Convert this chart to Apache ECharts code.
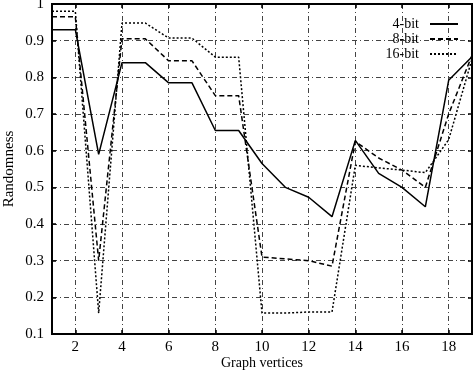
<!DOCTYPE html>
<html>
<head>
<meta charset="utf-8">
<script src="https://cdn.jsdelivr.net/npm/echarts@6/dist/echarts.min.js"></script>
<style>
html,body{margin:0;padding:0;background:#fff;}
#chart{width:474px;height:373px;}
</style>
</head>
<body>
<div id="chart"></div>
<script>
var vertices = [1,2,3,4,5,6,7,8,9,10,11,12,13,14,15,16,17,18,19];
var bit4  = [0.93,0.93,0.59,0.84,0.84,0.785,0.785,0.655,0.655,0.565,0.50,0.473,0.42,0.628,0.538,0.50,0.447,0.792,0.856];
var bit8  = [0.965,0.965,0.30,0.905,0.905,0.845,0.845,0.75,0.75,0.31,0.305,0.30,0.285,0.625,0.58,0.547,0.50,0.70,0.86];
var bit16 = [0.98,0.98,0.157,0.948,0.948,0.907,0.907,0.855,0.855,0.157,0.157,0.16,0.16,0.56,0.553,0.547,0.54,0.63,0.85];
var seriesNames = ['4-bit','8-bit','16-bit'];
var xTicks = [2,4,6,8,10,12,14,16,18];
var yTicks = ['0.1','0.2','0.3','0.4','0.5','0.6','0.7','0.8','0.9','1'];

function pairs(vals){ return vertices.map(function(v,i){ return [v, vals[i]]; }); }

var serif = 'Liberation Serif';
var gridLine = {show:true, lineStyle:{color:'#444', width:1, type:[5,3,1,3]}};

var chart = echarts.init(document.getElementById('chart'), null, {renderer:'canvas'});
chart.setOption({
  animation:false,
  backgroundColor:'#fff',
  grid:{left:52, right:2, top:4, bottom:39, show:true, borderColor:'#000', borderWidth:2,
        containLabel:false, outerBoundsMode:'none'},
  legend:{
    orient:'vertical', right:15, top:17, padding:0, align:'right',
    itemWidth:28, itemHeight:10, itemGap:1,
    data:seriesNames,
    itemStyle:{opacity:0},
    textStyle:{fontFamily:serif, fontSize:14, color:'#000', lineHeight:14, padding:[0,6,0,0]}
  },
  xAxis:[{
    type:'value', min:1, max:19, interval:1,
    name:'Graph vertices', nameLocation:'middle', nameGap:22, nameMoveOverlap:false,
    nameTextStyle:{fontFamily:serif, fontSize:14, color:'#000'},
    axisLine:{show:true, onZero:false, lineStyle:{color:'#000', width:2}},
    axisTick:{show:true, inside:true, length:4, customValues:xTicks, lineStyle:{color:'#000', width:1.5}},
    axisLabel:{show:true, margin:6, customValues:xTicks, fontFamily:serif, fontSize:15, color:'#000'},
    splitLine:gridLine
  },{
    type:'value', min:1, max:19, interval:1, position:'top',
    axisLine:{show:true, onZero:false, lineStyle:{color:'#000', width:2}},
    axisTick:{show:true, inside:true, length:4, customValues:xTicks, lineStyle:{color:'#000', width:1.5}},
    axisLabel:{show:false},
    splitLine:{show:false}
  }],
  yAxis:[{
    type:'value', min:0.1, max:1, interval:0.1,
    name:'Randomness', nameLocation:'middle', nameGap:35, nameRotate:90, nameMoveOverlap:false,
    nameTextStyle:{fontFamily:serif, fontSize:15, color:'#000'},
    axisLine:{show:true, onZero:false, lineStyle:{color:'#000', width:2}},
    axisTick:{show:true, inside:true, length:4, lineStyle:{color:'#000', width:1.5}},
    axisLabel:{margin:8, fontFamily:serif, fontSize:15, color:'#000',
      formatter:function(v){ return yTicks[Math.round(v*10)-1]; }},
    splitLine:gridLine
  },{
    type:'value', min:0.1, max:1, interval:0.1, position:'right',
    axisLine:{show:true, onZero:false, lineStyle:{color:'#000', width:2}},
    axisTick:{show:true, inside:true, length:4, lineStyle:{color:'#000', width:1.5}},
    axisLabel:{show:false},
    splitLine:{show:false}
  }],
  series:[
    {name:seriesNames[0], type:'line', data:pairs(bit4), symbol:'none',
     lineStyle:{color:'#000', width:1.5, type:'solid'}, itemStyle:{color:'#000'}},
    {name:seriesNames[1], type:'line', data:pairs(bit8), symbol:'none',
     lineStyle:{color:'#000', width:1.5, type:[5,3]}, itemStyle:{color:'#000'}},
    {name:seriesNames[2], type:'line', data:pairs(bit16), symbol:'none',
     lineStyle:{color:'#000', width:1.5, type:[2,2]}, itemStyle:{color:'#000'}}
  ]
});
</script>
</body>
</html>
